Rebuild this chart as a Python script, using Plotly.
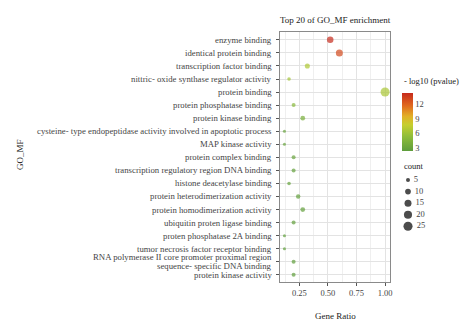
import plotly.graph_objects as go

terms = [
    "enzyme binding",
    "identical protein binding",
    "transcription factor binding",
    "nittric- oxide synthase regulator activity",
    "protein binding",
    "protein phosphatase binding",
    "protein kinase binding",
    "cysteine- type endopeptidase activity involved in apoptotic process",
    "MAP kinase activity",
    "protein complex binding",
    "transcription regulatory region DNA binding",
    "histone deacetylase binding",
    "protein heterodimerization activity",
    "protein homodimerization activity",
    "ubiquitin proten ligase binding",
    "proten phosphatase 2A binding",
    "tumor necrosis factor receptor binding",
    "RNA polymerase II core promoter proximal region<br>sequence- specific DNA binding",
    "protein kinase activity",
]
gene_ratio = [0.52, 0.60, 0.32, 0.16, 1.00, 0.20, 0.28, 0.12, 0.12, 0.20,
              0.20, 0.16, 0.24, 0.28, 0.20, 0.12, 0.12, 0.20, 0.20]
counts = [13, 15, 8, 4, 25, 5, 7, 3, 3, 5, 5, 4, 6, 7, 5, 3, 3, 5, 5]
neg_log10_p = [14.4, 13.2, 6.8, 6.3, 6.6, 5.0, 4.0, 3.0, 3.0, 3.0,
               2.8, 2.9, 2.7, 2.7, 2.7, 2.6, 2.6, 2.5, 2.5]
legend_counts = [5, 10, 15, 20, 25]
x_ticks = [0.25, 0.50, 0.75, 1.00]
x_tick_text = ["0.25", "0.50", "0.75", "1.00"]
color_ticks = [3, 6, 9, 12]

W, H = 474, 335
def px(x):
    return x / W
def py(y):
    return (H - y) / H

def dot_size(c):
    return (16 + (c - 5) * 3.3) ** 0.5

FONT = "Liberation Serif"
TXT = "#454545"
colorscale = [[0, '#5e9d3c'], [0.25, '#8fbd3a'], [0.45, '#c6cf2e'],
              [0.6, '#e2b027'], [0.78, '#e06a1f'], [1, '#c62a1c']]

fig = go.Figure()
fig.add_trace(go.Scatter(
    x=gene_ratio, y=list(range(len(terms))), mode="markers",
    marker=dict(size=[dot_size(c) for c in counts], color=neg_log10_p,
                colorscale=colorscale, cmin=2.45, cmax=14.45, line=dict(width=0),
                colorbar=dict(
                    x=px(401.5), xanchor="left", y=py(150.5), yanchor="bottom",
                    len=58, lenmode="pixels", thickness=11, thicknessmode="pixels",
                    xpad=0, ypad=0, outlinewidth=0, ticks="",
                    tickvals=color_ticks,
                    tickfont=dict(family=FONT, size=8.5, color=TXT))),
    showlegend=False, hoverinfo="skip"))

# size legend
fig.add_trace(go.Scatter(
    x=[0] * len(legend_counts), y=legend_counts, mode="markers+text",
    text=[f" {c}" for c in legend_counts], textposition="middle right",
    textfont=dict(family=FONT, size=8.5, color=TXT),
    marker=dict(size=[dot_size(c) for c in legend_counts], color="black", line=dict(width=0)),
    xaxis="x2", yaxis="y2", showlegend=False, hoverinfo="skip", cliponaxis=False))

axis_common = dict(showgrid=True, gridcolor="#e3e3e3", gridwidth=0.8,
                   ticks="outside", ticklen=3, tickcolor="#555", tickwidth=0.8,
                   showline=True, linecolor="#8a8a8a", linewidth=1, mirror=True,
                   zeroline=False, automargin=False,
                   tickfont=dict(family=FONT, size=8.5, color=TXT))

annotations = [
    dict(text="Top 20 of GO_MF enrichment", x=px(335), y=py(20), xref="paper", yref="paper",
         xanchor="center", yanchor="middle", showarrow=False,
         font=dict(family=FONT, size=9, color="#222")),
    dict(text="Gene Ratio", x=px(335), y=py(316), xref="paper", yref="paper",
         xanchor="center", yanchor="middle", showarrow=False,
         font=dict(family=FONT, size=9, color="#222")),
    dict(text="GO_MF", x=px(20), y=py(155), xref="paper", yref="paper", showarrow=False,
         xanchor="center", yanchor="middle", textangle=-90,
         font=dict(family=FONT, size=9, color="#222")),
    dict(text="- log10 (pvalue)", x=px(401.5), y=py(80.5), xref="paper", yref="paper",
         showarrow=False, xanchor="left", yanchor="middle",
         font=dict(family=FONT, size=8.5, color="#222")),
    dict(text="count", x=px(401.5), y=py(166), xref="paper", yref="paper", showarrow=False,
         xanchor="left", yanchor="middle", font=dict(family=FONT, size=8.5, color="#222")),
]
# category labels (tight line spacing for wrapped label)
for i, term in enumerate(terms):
    lines = term.split("<br>")
    n = len(lines)
    for j, line in enumerate(lines):
        annotations.append(dict(
            text=line, x=px(272.5), y=i, xref="paper", yref="y",
            xanchor="right", yanchor="middle", showarrow=False,
            yshift=((n - 1) / 2 - j) * 8.6, borderpad=0, align="right",
            font=dict(family=FONT, size=8.75, color=TXT)))

fig.update_layout(
    width=W, height=H,
    margin=dict(l=0, r=0, t=0, b=0),
    paper_bgcolor="white", plot_bgcolor="white",
    font=dict(family=FONT, size=8.5, color=TXT),
    xaxis=dict(domain=[px(280), px(390)], range=[0.081, 1.043],
               tickvals=x_ticks, ticktext=x_tick_text,
               minor=dict(tickvals=[0.125, 0.375, 0.625, 0.875], showgrid=True,
                          gridcolor="#efefef", gridwidth=0.5),
               **axis_common),
    yaxis=dict(domain=[py(282), py(32)], range=[18.55, -0.6],
               tickvals=list(range(len(terms))), showticklabels=False, **axis_common),
    xaxis2=dict(domain=[px(400), px(416)], range=[-1, 1], visible=False, anchor="y2"),
    yaxis2=dict(domain=[py(232.1), py(174.2)], range=[27.5, 2.5], visible=False, anchor="x2"),
    annotations=annotations,
)

fig.write_html("out.html")
